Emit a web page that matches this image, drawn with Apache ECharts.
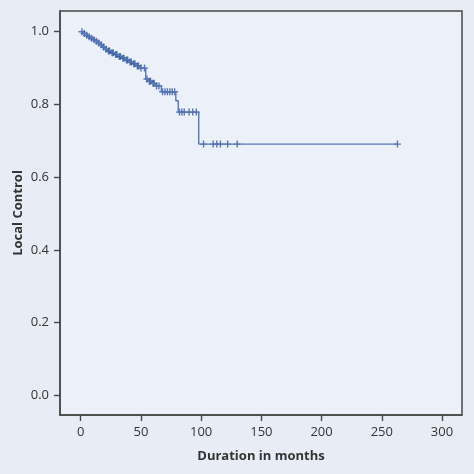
<!DOCTYPE html>
<html><head><meta charset="utf-8">
<script src="https://cdn.jsdelivr.net/npm/echarts@6/dist/echarts.min.js"></script>
<style>html,body{margin:0;padding:0;background:#e8ecf5;}#c{width:474px;height:474px;}</style>
</head><body><div id="c"></div>
<script>
// Kaplan-Meier step curve: event times (months) and survival after each event
const eventTimes = [0, 2, 4, 6, 8, 10, 12, 14, 16, 18, 20, 22, 25, 28, 31, 34, 37, 40, 43, 46, 49, 54, 56, 59, 62, 67, 79, 81, 98];
const survival   = [1.0, 0.995, 0.99, 0.986, 0.982, 0.978, 0.974, 0.969, 0.964, 0.958, 0.952, 0.947, 0.942, 0.937, 0.932, 0.927, 0.922, 0.917, 0.912, 0.906, 0.900, 0.870, 0.864, 0.858, 0.851, 0.835, 0.810, 0.779, 0.691];
const lastFollowUp = 263;
// censored observations (months)
const censorTimes = [1, 3, 5, 7, 9, 11, 13, 15, 17, 19, 21, 23, 24, 26, 27, 29, 30, 32, 33, 35, 36, 38, 39, 41, 42, 44, 45, 47, 48, 50, 53, 55, 57, 58, 60, 61, 63, 65, 68, 70, 72, 74, 76, 78, 82, 84, 86, 90, 93, 96, 102, 110, 113, 116, 122, 130, 263];
const xTicks = [0, 50, 100, 150, 200, 250, 300];
const yTicks = [0.0, 0.2, 0.4, 0.6, 0.8, 1.0];

function survAt(t){ let s = survival[0]; for(let i=0;i<eventTimes.length;i++){ if(eventTimes[i]<=t) s = survival[i]; } return s; }
const lineData = eventTimes.map((t,i)=>[t, survival[i]]).concat([[lastFollowUp, survival[survival.length-1]]]);
const censorData = censorTimes.map(t=>[t, survAt(t)]);

const frameColor = '#474747';
const chart = echarts.init(document.getElementById('c'));
chart.setOption({
  backgroundColor: '#e8ecf5',
  animation: false,
  grid: {left:60, right:12, top:11, bottom:59, show:true, backgroundColor:'#ecf0f8', borderColor:frameColor, borderWidth:1.5},
  xAxis: {type:'value', min:-17.19, max:316.6,
     axisLine:{show:true, onZero:false, lineStyle:{color:frameColor, width:1.5}}, splitLine:{show:false},
     axisTick:{show:true, length:6, customValues:xTicks, lineStyle:{color:frameColor, width:1.4}},
     axisLabel:{color:'#333', fontSize:13, fontFamily:'Open Sans', margin:11, customValues:xTicks},
     name:'Duration in months', nameLocation:'middle', nameGap:35,
     nameTextStyle:{color:'#333', fontSize:13, fontWeight:'bold', fontFamily:'Open Sans'}},
  yAxis: {type:'value', min:-0.0536, max:1.0569,
     axisLine:{show:true, onZero:false, lineStyle:{color:frameColor, width:1.5}}, splitLine:{show:false},
     axisTick:{show:true, length:6, customValues:yTicks, lineStyle:{color:frameColor, width:1.4}},
     axisLabel:{color:'#333', fontSize:13, fontFamily:'Open Sans', margin:11, customValues:yTicks, formatter:v=>v.toFixed(1)},
     name:'Local Control', nameLocation:'middle', nameGap:35, nameMoveOverlap:false,
     nameTextStyle:{color:'#333', fontSize:13, fontWeight:'bold', fontFamily:'Open Sans'}},
  series: [
    {type:'line', step:'end', data:lineData, showSymbol:false,
     lineStyle:{color:'#5577b3', width:1.4}},
    {type:'scatter', data:censorData,
     symbol:'path://M4,0h2v4h4v2h-4v4h-2v-4h-4v-2h4z', symbolSize:7,
     itemStyle:{color:'#35589e'}}
  ]
});
</script></body></html>
